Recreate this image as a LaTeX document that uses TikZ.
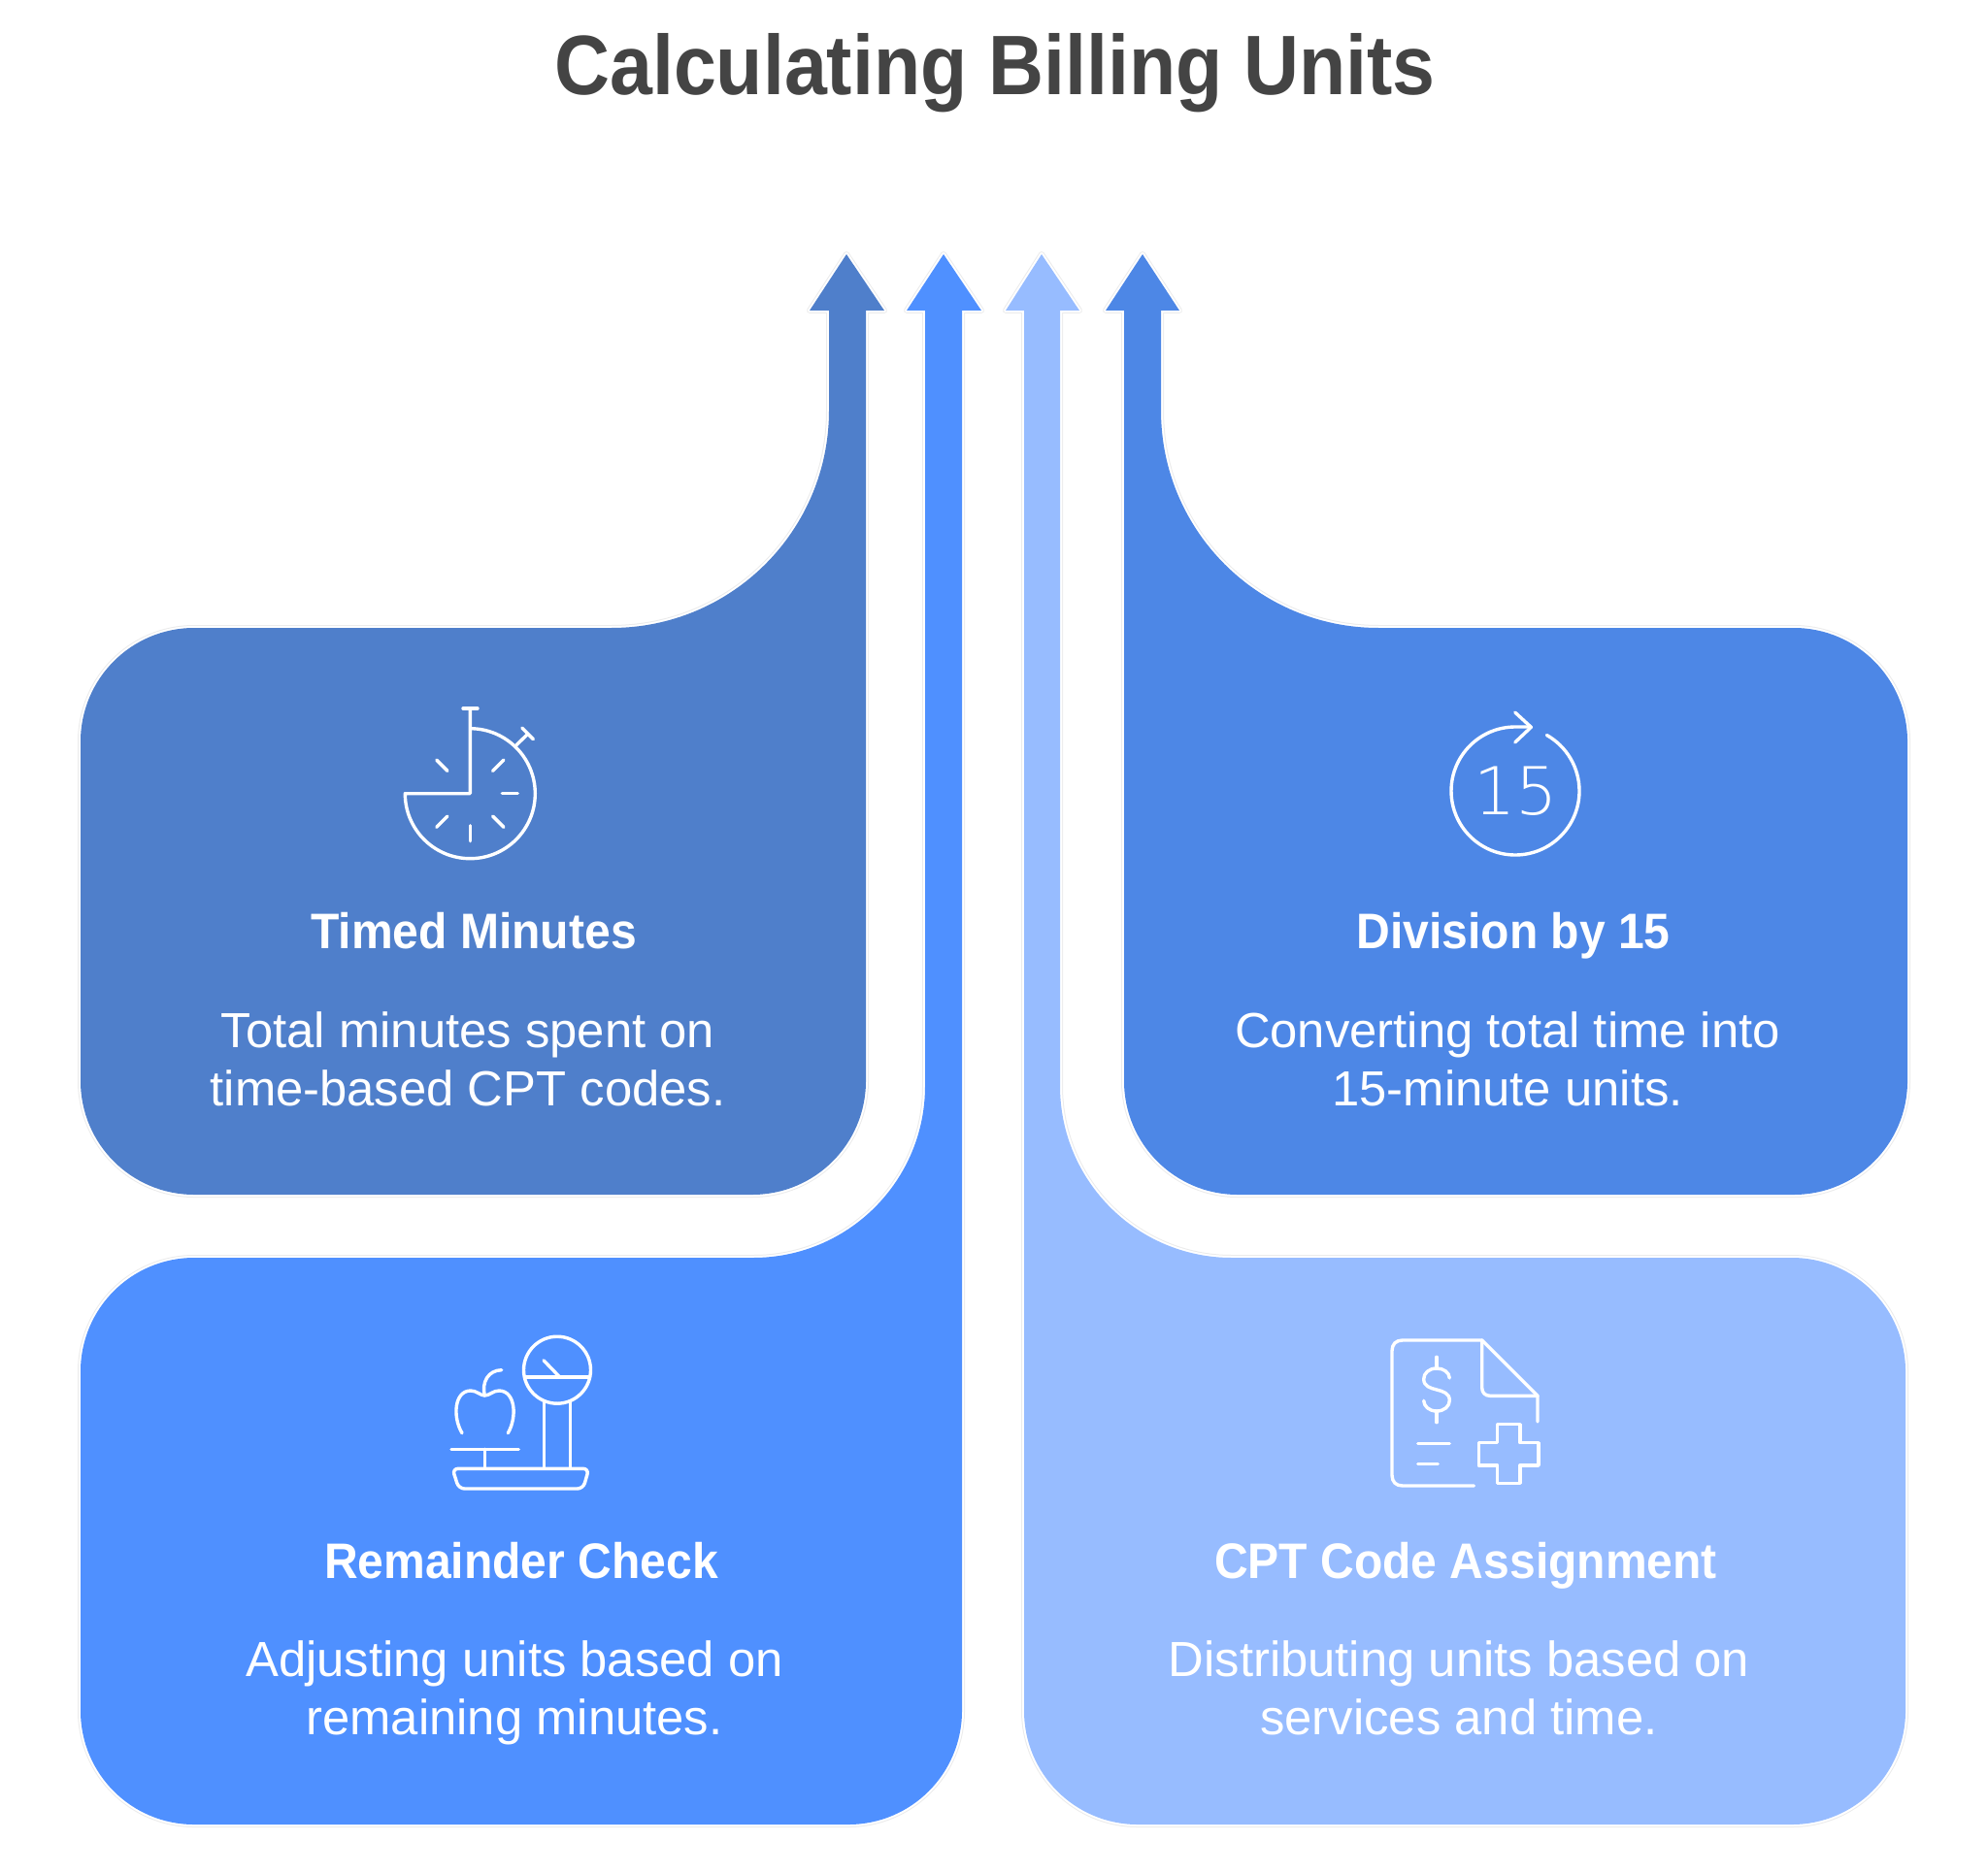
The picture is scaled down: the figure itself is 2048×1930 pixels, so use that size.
\documentclass[tikz,border=0pt]{standalone}
\usepackage{fontspec}
\setmainfont{Liberation Sans}
\newfontfamily\dialfont{DejaVu Sans ExtraLight}
\newfontfamily\titlefont{Liberation Sans}[FakeStretch=0.907]
\newfontfamily\headfont{Liberation Sans}[FakeStretch=0.935]
\definecolor{minutesblue}{HTML}{4F7FCB}
\definecolor{remainblue}{HTML}{4F90FF}
\definecolor{codeblue}{HTML}{97BCFF}
\definecolor{divideblue}{HTML}{4D87E6}
\definecolor{titlegray}{HTML}{444444}

\begin{document}
\begin{tikzpicture}[x=0.5pt,y=0.5pt,yscale=-1]
    \tikzstyle{panel}=[preaction={draw=black!8,line width=3pt,line join=round},preaction={draw=white,line width=2pt,line join=round}]
    \tikzstyle{glyph}=[draw=white,line width=1.7pt,line cap=round,line join=round]
    \tikzstyle{title}=[text=titlegray,anchor=base,font=\fontsize{43.5}{50}\selectfont\titlefont\bfseries]
    \tikzstyle{head}=[text=white,anchor=base,font=\fontsize{25.7}{30}\selectfont\headfont\bfseries]
    \tikzstyle{body}=[text=white,align=center,font=\fontsize{25.4}{30}\selectfont]
  \useasboundingbox (0,0) rectangle (2048,1930);

  %% arrow panels
  \path[panel,fill=minutesblue] (872,262) -- (911,320) -- (892,320) -- (892,1114)
    arc[start angle=0,end angle=90,radius=117] -- (200,1231)
    arc[start angle=90,end angle=180,radius=117] -- (83,764)
    arc[start angle=180,end angle=270,radius=117] -- (630,647)
    arc[start angle=90,end angle=0,radius=224] -- (854,320) -- (834,320) -- cycle;
  \path[panel,fill=remainblue] (972,262) -- (1011,320) -- (991,320) -- (991,1763)
    arc[start angle=0,end angle=90,radius=117] -- (200,1880)
    arc[start angle=90,end angle=180,radius=117] -- (83,1413)
    arc[start angle=180,end angle=270,radius=117] -- (776,1296)
    arc[start angle=90,end angle=0,radius=177] -- (953,320) -- (934,320) -- cycle;
  \path[panel,fill=codeblue] (1073,262) -- (1112,320) -- (1092,320) -- (1092,1119)
    arc[start angle=180,end angle=90,radius=177] -- (1846,1296)
    arc[start angle=270,end angle=360,radius=117] -- (1963,1763)
    arc[start angle=0,end angle=90,radius=117] -- (1172,1880)
    arc[start angle=90,end angle=180,radius=117] -- (1055,320) -- (1036,320) -- cycle;
  \path[panel,fill=divideblue] (1177,262) -- (1215,320) -- (1196,320) -- (1196,423)
    arc[start angle=180,end angle=90,radius=224] -- (1848,647)
    arc[start angle=270,end angle=360,radius=117] -- (1965,1114)
    arc[start angle=0,end angle=90,radius=117] -- (1275,1231)
    arc[start angle=90,end angle=180,radius=117] -- (1158,320) -- (1139,320) -- cycle;

  %% stopwatch
  \draw[glyph] (484.3,750.7) arc[start angle=-90,end angle=180,radius=67] -- (484.3,817.7) -- (484.3,730);
  \draw[glyph] (477,730) -- (492,730);
  \draw[glyph] (531.7,768) -- (543,757);
  \draw[glyph] (537.7,750) -- (549.3,761.7);
  \draw[glyph] (507.6,794.4) -- (518.9,783.1);
  \draw[glyph] (517.3,817.7) -- (533.3,817.7);
  \draw[glyph] (507.6,841) -- (518.9,852.3);
  \draw[glyph] (484.3,850.7) -- (484.3,866.7);
  \draw[glyph] (461,841) -- (449.7,852.3);
  \draw[glyph] (461,794.4) -- (449.7,783.1);

  %% circular arrow
  \draw[glyph] (1577,749) -- (1561,749) arc[start angle=-90,end angle=-420.6,radius=66];
  \draw[glyph] (1560.7,734) -- (1577.3,749.3) -- (1560.7,765);
  \node (dial) at (1561.7,815) [text=white,font=\fontsize{34}{34}\selectfont\dialfont] {15};

  %% scale and apple
  \draw[glyph] (574,1411.7) circle[radius=34.5];
  \draw[glyph] (541.7,1419) -- (606,1419);
  \draw[glyph] (560,1401.7) -- (576.7,1419);
  \draw[glyph] (560.7,1445) -- (560.7,1513);
  \draw[glyph] (587.3,1445) -- (587.3,1513);
  \draw[glyph,rounded corners=3] (466,1513.3) -- (606.7,1513.3) -- (600.7,1534) -- (472.7,1534) -- cycle;
  \draw[glyph] (465,1493.3) -- (534.3,1493.3);
  \draw[glyph] (499.3,1493.3) -- (499.3,1513);
  \draw[glyph] (476,1476.7) .. controls (466,1460) and (468,1433) .. (485,1433)
    .. controls (491,1433) and (495,1438) .. (499.3,1438)
    .. controls (504,1438) and (508,1433) .. (514,1433)
    .. controls (531,1433) and (533,1460) .. (523.3,1476.7);
  \draw[glyph] (499.3,1438) .. controls (496,1424) and (503,1412) .. (516.7,1411.7);

  %% invoice
  \draw[glyph] (1518.3,1531) -- (1445,1531) .. controls (1438,1531) and (1434,1527) .. (1434,1520)
    -- (1434,1392) .. controls (1434,1385) and (1438,1381) .. (1445,1381)
    -- (1526.7,1381) -- (1584,1438.3) -- (1584,1465);
  \draw[glyph] (1526.7,1381) -- (1526.7,1430) .. controls (1526.7,1435) and (1530,1438.3) .. (1535,1438.3) -- (1584,1438.3);
  \draw[glyph] (1480,1398.3) -- (1480,1410);
  \draw[glyph] (1480,1454) -- (1480,1465.7);
  \draw[glyph] (1493.3,1420) .. controls (1493,1414) and (1487,1410) .. (1480,1410)
    .. controls (1472,1410) and (1466.7,1415) .. (1466.7,1421)
    .. controls (1466.7,1436) and (1493.3,1428) .. (1493.3,1443)
    .. controls (1493.3,1449) and (1488,1454) .. (1480,1454)
    .. controls (1472,1454) and (1467,1449) .. (1466.7,1443.3);
  \draw[glyph] (1460.7,1487.7) -- (1493.3,1487.7);
  \draw[glyph] (1460.7,1508.3) -- (1481.3,1508.3);
  \draw[glyph] (1542.7,1467.7) -- (1566,1467.7) -- (1566,1486.7) -- (1585,1486.7) -- (1585,1510)
    -- (1566,1510) -- (1566,1528.3) -- (1542.7,1528.3) -- (1542.7,1510) -- (1523.3,1510)
    -- (1523.3,1486.7) -- (1542.7,1486.7) -- cycle;

  %% texts
  \node (heading) at (1025,98) [title] {Calculating Billing Units};
  \node (minh) at (488,977) [head] {Timed Minutes};
  \node (minb) at (482,1097) [body] {\strut Total minutes spent on\\\strut time-based CPT codes.};
  \node (remh) at (537,1626) [head] {Remainder Check};
  \node (remb) at (530,1745) [body] {\strut Adjusting units based on\\\strut remaining minutes.};
  \node (divh) at (1559,977) [head] {Division by 15};
  \node (divb) at (1553,1097) [body] {\strut Converting total time into\\\strut 15-minute units.};
  \node (cpth) at (1510,1626) [head] {CPT Code Assignment};
  \node (cptb) at (1503,1745) [body] {\strut Distributing units based on\\\strut services and time.};
\end{tikzpicture}
\end{document}
